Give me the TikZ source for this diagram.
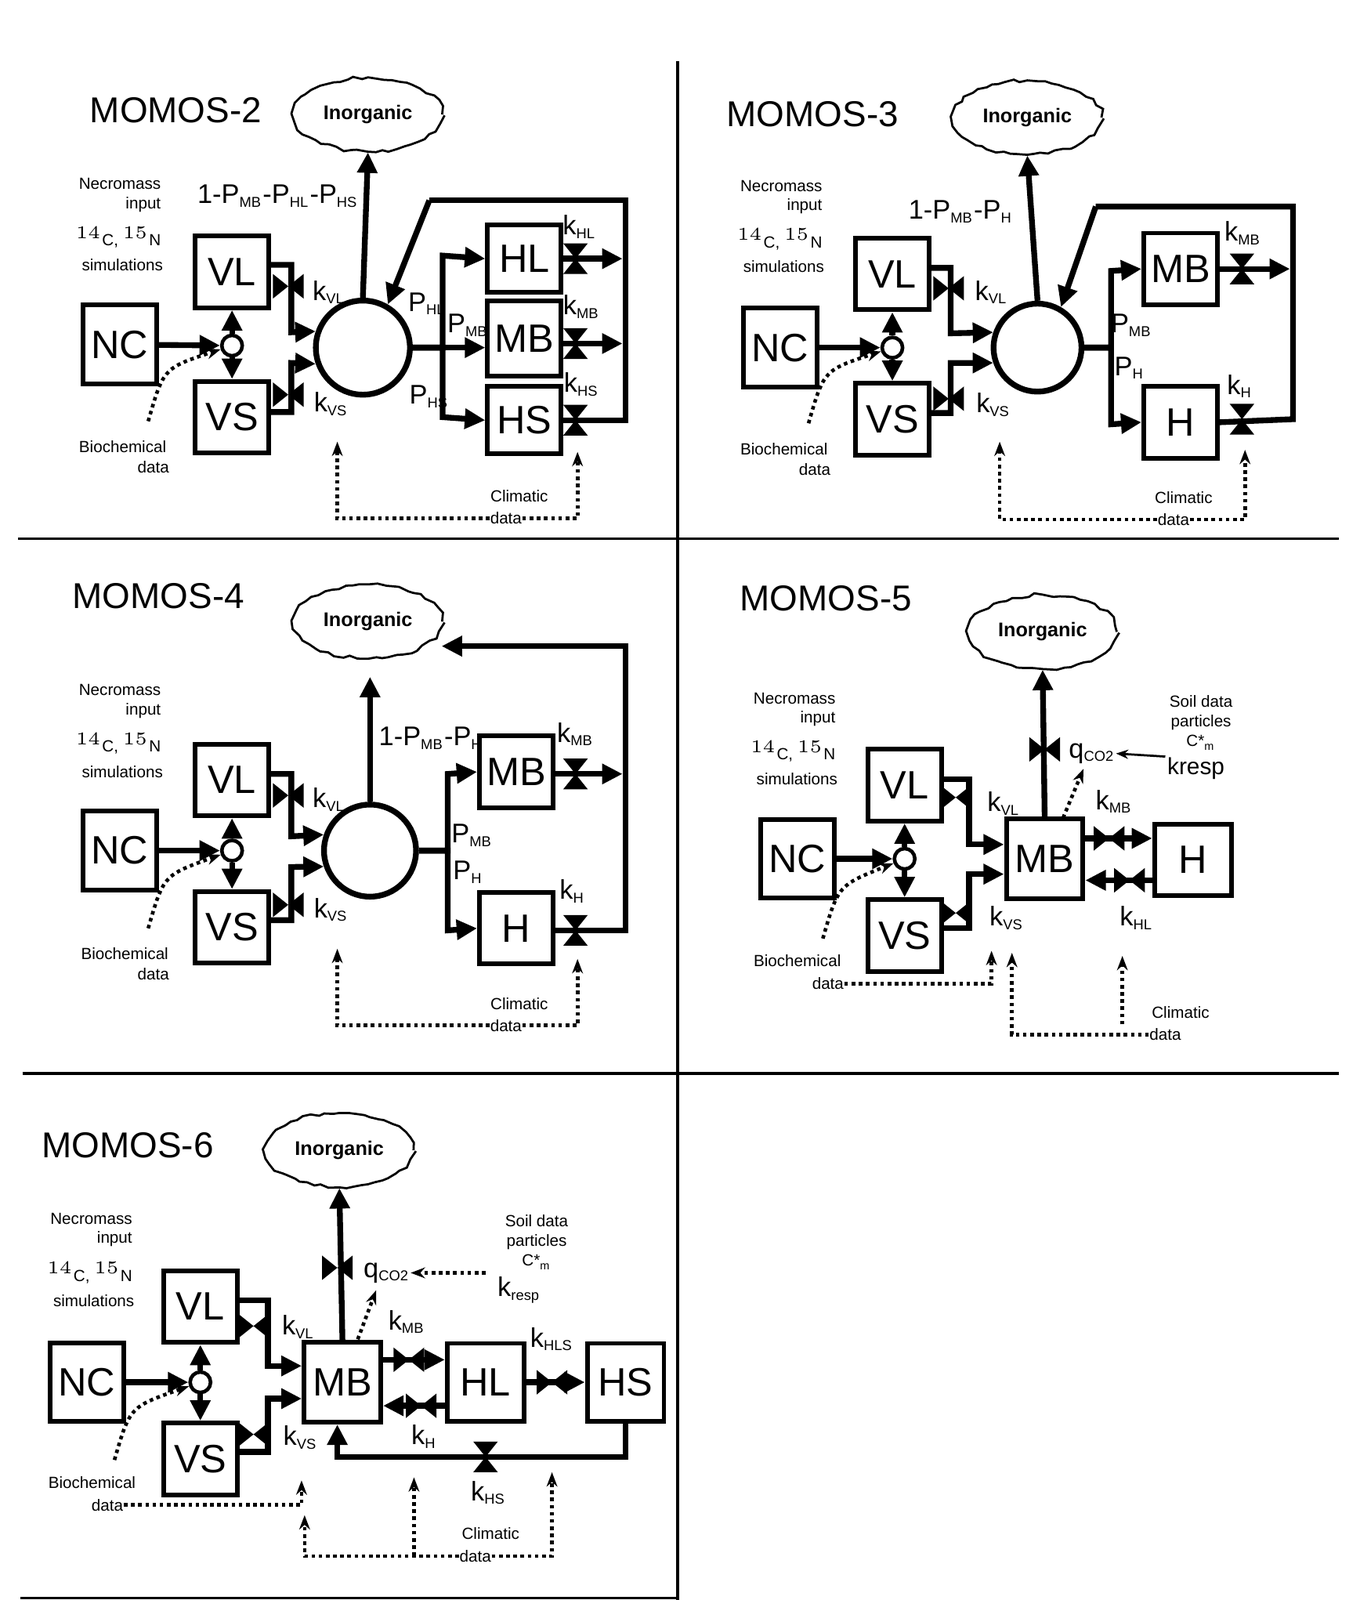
\documentclass[tikz,border=0pt]{standalone}
\usepackage{fontspec}
\setmainfont{Liberation Sans}
\usetikzlibrary{arrows.meta,shapes.geometric,decorations.pathmorphing}
\newcommand\vh[1]{\fill[shift={#1}] (-15,-12)--(0,0)--(-15,12)--cycle (15,-12)--(0,0)--(15,12)--cycle;}
\newcommand\vv[1]{\fill[shift={#1}] (-12,-15)--(0,0)--(12,-15)--cycle (-12,15)--(0,0)--(12,15)--cycle;}
\tikzset{
 box/.style={draw,line width=1.3pt,minimum width=0.72cm,minimum height=0.7cm,inner sep=0,font=\fontsize{11}{11}\selectfont},
 flow/.style={line width=1.6pt},
 fa/.style={flow,-{Triangle[length=0.2cm,width=0.19cm]}},
 dot/.style={densely dotted,line width=1pt},
 da/.style={dot,-{Stealth[length=0.14cm]}},
 sm/.style={font=\fontsize{4.5}{5.5}\selectfont,inner sep=0},
 kl/.style={font=\fontsize{7.5}{7.5}\selectfont,inner sep=0},
 ttl/.style={font=\fontsize{10}{10}\selectfont,inner sep=0},
 sc/.style={circle,draw,line width=1pt,minimum size=0.2cm,inner sep=0},
 bc/.style={circle,draw,line width=1.6pt,minimum size=0.92cm,inner sep=0},
 cl/.style={ellipse,draw,line width=0.6pt,decorate,decoration={random steps,segment length=2pt,amplitude=0.5pt},minimum width=1.45cm,minimum height=0.72cm,inner sep=0,font=\bfseries\fontsize{5.5}{5.5}\selectfont},
}
\newcommand\kk[1]{k\textsubscript{\fontsize{4}{4}\selectfont #1}}
\newcommand\pp[1]{P\textsubscript{\fontsize{4}{4}\selectfont #1}}
\begin{document}
\begin{tikzpicture}[x=0.01cm,y=-0.01cm]
\useasboundingbox (0,0) rectangle (1330,1565);
% dividers
\draw[line width=0.8pt] (663,60)--(663,1565) (18,527)--(1310,527) (22,1050)--(1310,1050) (20,1563)--(663,1563);

%%%%% MOMOS-2
\node[ttl] (t2) at (172,108) {MOMOS-2};
\node[cl] (cl2) at (360,112) {Inorganic};
\node[sm,anchor=east] (n2a) at (158,180) {Necromass};
\node[sm,anchor=east] (n2b) at (158,200) {input};
\node[sm,anchor=east] (n2c) at (158,232) {$^{14}$C, $^{15}$N};
\node[sm,anchor=east] (n2d) at (160,259) {simulations};
\node[sm] (b2a) at (120,437) {Biochemical};
\node[sm] (b2b) at (150,457) {data};
\node[box,minimum height=0.77cm] (NC2) at (117,337) {NC};
\node[box] (VL2) at (227,266) {VL};
\node[box] (VS2) at (227,408) {VS};
\node[sc] (s2) at (227,338) {};
\node[bc] (C2) at (355,340) {};
\node[box,minimum height=0.66cm] (HL2) at (513,253) {HL};
\node[box,minimum height=0.74cm] (MB2) at (513,331) {MB};
\node[box,minimum height=0.66cm] (HS2) at (513,411) {HS};
\draw[fa] (NC2) -- (s2);
\draw[fa] (s2) -- (VL2);
\draw[fa] (s2) -- (VS2);
\draw[da] (145,412) .. controls (160,360) .. (s2);
\draw[fa] (VL2.east |- 0,259) -| (285,325) -- (C2.161);
\draw[fa] (VS2.east |- 0,403) -| (285,355) -- (C2.199);
\vh{(282,280)} \vh{(282,386)}
\node[kl] (k2a) at (322,286) {\kk{VL}};
\node[kl] (k2b) at (324,395) {\kk{VS}};
\draw[fa] (C2.north) -- (cl2.south);
\node[kl] (l2) at (272,192) {1-\pp{MB}-\pp{HL}-\pp{HS}};
\draw[fa] (C2.east) -| (433,250) -- (HL2.west);
\draw[fa] (C2.east) -- (MB2.west |- C2.east);
\draw[fa] (C2.east) -| (433,408) -- (HS2.west);
\node[kl] (p2a) at (418,297) {\pp{HL}};
\node[kl] (p2b) at (458,318) {\pp{MB}};
\node[kl] (p2c) at (420,388) {\pp{HS}};
\draw[fa] (HL2.east) -- (609,253);
\draw[fa] (MB2.east |- 0,336) -- (609,336);
\draw[flow] (HS2.east) -- (612,411) -- (612,196) -- (420,196);
\draw[fa] (420,196) -- (C2.60);
\vv{(563,253)} \vv{(563,336)} \vv{(563,411)}
\node[kl] (k2c) at (567,222) {\kk{HL}};
\node[kl] (k2d) at (569,300) {\kk{MB}};
\node[kl] (k2e) at (569,376) {\kk{HS}};
\node[sm] (c2a) at (508,485) {Climatic};
\node[sm] (c2b) at (495,507) {data};
\draw[da] (c2b.west) -- ++(-8,0) -| (330,432);
\draw[da] (c2b.east) -- ++(8,0) -| (565,442);

%%%%% MOMOS-3
\node[ttl] (t3) at (795,112) {MOMOS-3};
\node[cl] (cl3) at (1005,115) {Inorganic};
\node[sm,anchor=east] at (805,182) {Necromass};
\node[sm,anchor=east] at (805,202) {input};
\node[sm,anchor=east] at (805,234) {$^{14}$C, $^{15}$N};
\node[sm,anchor=east] at (807,261) {simulations};
\node[sm] at (767,439) {Biochemical};
\node[sm] at (797,459) {data};
\node[box,minimum height=0.77cm] (NC3) at (763,340) {NC};
\node[box] (VL3) at (873,268) {VL};
\node[box] (VS3) at (873,410) {VS};
\node[sc] (s3) at (873,340) {};
\node[bc,minimum size=0.86cm] (C3) at (1015,340) {};
\node[box] (MB3) at (1155,263) {MB};
\node[box] (H3) at (1155,413) {H};
\draw[fa] (NC3) -- (s3);
\draw[fa] (s3) -- (VL3);
\draw[fa] (s3) -- (VS3);
\draw[da] (791,414) .. controls (806,362) .. (s3);
\draw[fa] (VL3.east |- 0,262) -| (930,326) -- (C3.161);
\draw[fa] (VS3.east |- 0,404) -| (930,355) -- (C3.199);
\vh{(928,282)} \vh{(928,390)}
\node[kl] at (970,286) {\kk{VL}};
\node[kl] at (972,396) {\kk{VS}};
\draw[fa] (C3.north) -- (cl3.south);
\node[kl] at (940,207) {1-\pp{MB}-\pp{H}};
\draw[fa] (C3.east) -| (1087,265) -- (MB3.west);
\draw[fa] (C3.east) -| (1087,415) -- (H3.west);
\node[kl] at (1107,318) {\pp{MB}};
\node[kl] at (1105,360) {\pp{H}};
\draw[fa] (MB3.east) -- (1262,263);
\draw[flow] (H3.east) -- (1265,410) -- (1265,202) -- (1072,202);
\draw[fa] (1072,202) -- (C3.60);
\vv{(1215,263)} \vv{(1215,410)}
\node[kl] at (1216,228) {\kk{MB}};
\node[kl] at (1213,378) {\kk{H}};
\node[sm] at (1158,487) {Climatic};
\node[sm] (c3b) at (1148,508) {data};
\draw[da] (c3b.west) -- ++(-8,0) -| (978,432);
\draw[da] (c3b.east) -- ++(8,0) -| (1218,440);

%%%%% MOMOS-4
\node[ttl] (t4) at (155,583) {MOMOS-4};
\node[cl] (cl4) at (360,608) {Inorganic};
\node[sm,anchor=east] at (158,675) {Necromass};
\node[sm,anchor=east] at (158,695) {input};
\node[sm,anchor=east] at (158,727) {$^{14}$C, $^{15}$N};
\node[sm,anchor=east] at (160,755) {simulations};
\node[sm] at (122,933) {Biochemical};
\node[sm] at (150,953) {data};
\node[box,minimum height=0.77cm] (NC4) at (117,832) {NC};
\node[box] (VL4) at (227,763) {VL};
\node[box] (VS4) at (227,907) {VS};
\node[sc] (s4) at (227,832) {};
\node[bc,minimum size=0.9cm] (C4) at (362,832) {};
\node[box] (MB4) at (505,755) {MB};
\node[box] (H4) at (505,908) {H};
\draw[fa] (NC4) -- (s4);
\draw[fa] (s4) -- (VL4);
\draw[fa] (s4) -- (VS4);
\draw[da] (145,908) .. controls (160,856) .. (s4);
\draw[fa] (VL4.east |- 0,757) -| (285,818) -- (C4.161);
\draw[fa] (VS4.east |- 0,900) -| (285,848) -- (C4.199);
\vh{(282,778)} \vh{(282,885)}
\node[kl] at (322,782) {\kk{VL}};
\node[kl] at (324,890) {\kk{VS}};
\draw[fa] (C4.north) -- (362,662);
\node[kl,anchor=west] at (370,722) {1-\pp{MB}-\pp{H}};
\draw[fa] (C4.east) -| (438,757) -- (MB4.west);
\draw[fa] (C4.east) -| (438,910) -- (H4.west);
\node[kl] at (462,817) {\pp{MB}};
\node[kl] at (458,853) {\pp{H}};
\draw[fa] (MB4.east |- 0,757) -- (609,757);
\draw[fa] (H4.east |- 0,910) -- (612,910) -- (612,632) -- (432,632);
\vv{(563,757)} \vv{(563,910)}
\node[kl] at (563,718) {\kk{MB}};
\node[kl] at (560,872) {\kk{H}};
\node[sm] at (508,982) {Climatic};
\node[sm] (c4b) at (495,1003) {data};
\draw[da] (c4b.west) -- ++(-8,0) -| (330,928);
\draw[da] (c4b.east) -- ++(8,0) -| (565,938);

%%%%% MOMOS-5
\node[ttl] (t5) at (808,585) {MOMOS-5};
\node[cl] (cl5) at (1020,618) {Inorganic};
\node[sm,anchor=east] at (818,683) {Necromass};
\node[sm,anchor=east] at (818,703) {input};
\node[sm,anchor=east] at (818,735) {$^{14}$C, $^{15}$N};
\node[sm,anchor=east] at (820,762) {simulations};
\node[sm] (b5a) at (780,940) {Biochemical};
\node[sm] (b5b) at (810,962) {data};
\node[box,minimum height=0.77cm] (NC5) at (780,840) {NC};
\node[box] (VL5) at (885,768) {VL};
\node[box] (VS5) at (885,915) {VS};
\node[sc] (s5) at (885,840) {};
\node[box,minimum width=0.75cm,minimum height=0.78cm] (MB5) at (1022,840) {MB};
\node[box,minimum width=0.75cm] (H5) at (1167,841) {H};
\draw[fa] (NC5) -- (s5);
\draw[fa] (s5) -- (VL5);
\draw[fa] (s5) -- (VS5);
\draw[da] (805,918) .. controls (820,866) .. (s5);
\draw[fa] (VL5.east |- 0,762) -| (948,826) -- (MB5.west |- 0,826);
\draw[fa] (VS5.east |- 0,908) -| (948,855) -- (MB5.west |- 0,855);
\vh{(935,780)} \vh{(935,893)}
\node[kl] at (982,786) {\kk{VL}};
\node[kl] at (985,898) {\kk{VS}};
\draw[fa] (MB5.north) -- (cl5.south);
\vh{(1022,733)}
\node[kl,anchor=west] (q5) at (1045,737) {q\textsubscript{\fontsize{4}{4}\selectfont CO2}};
\node[sm,align=center] (soil5) at (1175,707) {Soil data\\particles\\C*\textsubscript{m}};
\node[kl,font=\fontsize{6.5}{6.5}\selectfont] (kr5) at (1170,752) {kresp};
\draw[-{Stealth[length=0.12cm]},line width=0.6pt] (1140,740) -- (q5.east);
\draw[da] (1040,800) -- (1060,752);
\draw[fa] (MB5.east |- 0,820) -- (H5.west |- 0,820);
\draw[fa] (H5.west |- 0,861) -- (MB5.east |- 0,861);
\vh{(1085,820)} \vh{(1105,861)}
\node[kl] at (1090,784) {\kk{MB}};
\node[kl] at (1112,898) {\kk{HL}};
\node[sm] at (1155,990) {Climatic};
\node[sm] (c5b) at (1140,1012) {data};
\draw[da] (b5b.east) -| (970,930);
\draw[da] (c5b.west) -| (990,932);
\draw[da] (1098,1002) -- (1098,935);

%%%%% MOMOS-6
\node[ttl] (t6) at (125,1120) {MOMOS-6};
\node[cl] (cl6) at (332,1125) {Inorganic};
\node[sm,anchor=east] at (130,1192) {Necromass};
\node[sm,anchor=east] at (130,1212) {input};
\node[sm,anchor=east] at (130,1245) {$^{14}$C, $^{15}$N};
\node[sm,anchor=east] at (132,1272) {simulations};
\node[sm] (b6a) at (90,1450) {Biochemical};
\node[sm] (b6b) at (105,1472) {data};
\node[box,minimum height=0.77cm] (NC6) at (85,1352) {NC};
\node[box] (VL6) at (196,1278) {VL};
\node[box] (VS6) at (196,1427) {VS};
\node[sc] (s6) at (196,1352) {};
\node[box,minimum width=0.75cm,minimum height=0.78cm] (MB6) at (335,1352) {MB};
\node[box,minimum width=0.75cm,minimum height=0.76cm] (HL6) at (475,1352) {HL};
\node[box,minimum width=0.75cm,minimum height=0.76cm] (HS6) at (612,1352) {HS};
\draw[fa] (NC6) -- (s6);
\draw[fa] (s6) -- (VL6);
\draw[fa] (s6) -- (VS6);
\draw[da] (112,1428) .. controls (127,1376) .. (s6);
\draw[fa] (VL6.east |- 0,1272) -| (262,1336) -- (MB6.west |- 0,1336);
\draw[fa] (VS6.east |- 0,1420) -| (262,1368) -- (MB6.west |- 0,1368);
\vh{(248,1297)} \vh{(248,1403)}
\node[kl] at (292,1298) {\kk{VL}};
\node[kl] at (294,1406) {\kk{VS}};
\draw[fa] (MB6.north) -- (cl6.south);
\vh{(330,1240)}
\node[kl,anchor=west] (q6) at (355,1245) {q\textsubscript{\fontsize{4}{4}\selectfont CO2}};
\node[sm,align=center] (soil6) at (525,1215) {Soil data\\particles\\C*\textsubscript{m}};
\node[kl] (kr6) at (508,1262) {\kk{resp}};
\draw[da] (475,1245) -- (q6.east);
\draw[da] (350,1310) -- (368,1262);
\draw[fa] (MB6.east |- 0,1330) -- (HL6.west |- 0,1330);
\draw[fa] (HL6.west |- 0,1375) -- (MB6.east |- 0,1375);
\draw[fa] (HL6.east) -- (HS6.west);
\draw[fa] (HS6.south) -- (612,1425) -- (330,1425) -- (MB6.south -| 330,0);
\vh{(400,1330)} \vh{(412,1375)} \vh{(540,1352)}
\vv{(475,1425)}
\node[kl] at (398,1293) {\kk{MB}};
\node[kl] at (415,1405) {\kk{H}};
\node[kl] at (540,1310) {\kk{HLS}};
\node[kl] at (478,1460) {\kk{HS}};
\node[sm] at (480,1500) {Climatic};
\node[sm] (c6b) at (465,1522) {data};
\draw[da] (b6b.east) -- ++(5,0) -| (295,1448);
\draw[da] (c6b.west) -- ++(-8,0) -| (298,1482);
\draw[da] (405,1522) -- (405,1445);
\draw[da] (c6b.east) -- ++(8,0) -| (540,1440);
\end{tikzpicture}
\end{document}
